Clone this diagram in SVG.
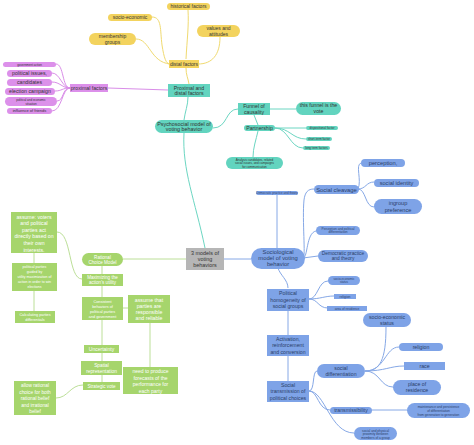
<svg xmlns="http://www.w3.org/2000/svg" width="474" height="445" viewBox="0 0 474 445">
<style>
text{font-family:"Liberation Sans",Arial,sans-serif;text-anchor:middle;fill:#333;}
.y{fill:#f3d35e;}
.t{fill:#62d4bf;}
.p{fill:#dc90ea;}
.g{fill:#a6d56c;}
.b{fill:#7ea3e7;}
.gr{fill:#b6b6b6;}
.gt{fill:#fff;}
.bt{fill:#2b3f6a;}
.c path{fill:none;stroke-width:1;}
.cy path{stroke:#f0da70;}
.cp path{stroke:#d98de8;}
.ct path{stroke:#6cd6c2;}
.cg path{stroke:#bcdf98;}
.cb path{stroke:#86a8e6;}
</style>
<rect width="474" height="445" fill="#fff"/>
<g id="connectors" class="c">
<g class="cy">
<path d="M186,59 C187,40 189,25 188,10"/>
<path d="M152,17 C162,17 160,30 162,45 C164,58 166,64 170,64"/>
<path d="M136,39 C150,39 150,62 170,64"/>
<path d="M220,37 C220,55 212,64 198,64"/>
<path d="M186,68 C186,75 188,78 189,84"/>
</g>
<g class="cp">
<path d="M108,88 L168,90"/>
<path d="M70,88 C62,88 64,64 56,64"/>
<path d="M70,88 C62,88 60,73 52,73"/>
<path d="M70,88 C62,88 60,82 52,82"/>
<path d="M70,88 C62,88 62,91 55,91"/>
<path d="M70,88 C62,88 64,101 57,101"/>
<path d="M70,88 C62,88 62,111 52,111"/>
</g>
<g class="ct">
<path d="M188,97 C188,105 185,112 184,120"/>
<path d="M184,133 C182,170 195,200 205,248"/>
<path d="M213,128 C228,128 225,109 238,109"/>
<path d="M270,109 L296,109"/>
<path d="M254,115 L258,125"/>
<path d="M258,131 C256,140 253,148 253,157"/>
<path d="M275,128 L306,128"/>
<path d="M275,128 C290,128 292,139 306,139"/>
<path d="M275,128 C288,128 290,148 303,148"/>
</g>
<g class="cg">
<path d="M186,259 L123,259"/>
<path d="M102,266 L102,274"/>
<path d="M102,285 L102,297"/>
<path d="M102,320 L102,345"/>
<path d="M102,353 L102,361"/>
<path d="M102,374 L102,382"/>
<path d="M57,232 C72,232 68,279 82,279"/>
<path d="M34,253 L34,263"/>
<path d="M34,290 L34,311"/>
<path d="M123,308 L128,308"/>
<path d="M150,323 L150,367"/>
<path d="M83,385 C70,385 68,398 56,398"/>
</g>
<g class="cb">
<path d="M224,259 L251,259"/>
<path d="M303,258 C308,258 306,233 316,231"/>
<path d="M303,258 L318,256"/>
<path d="M303,258 C306,258 302,220 304,200 C305,192 308,189 314,189"/>
<path d="M277,194 L277,248"/>
<path d="M358,189 C362,180 355,165 361,163"/>
<path d="M358,189 C366,189 366,182 374,182"/>
<path d="M358,189 C366,189 365,207 374,207"/>
<path d="M278,268 C280,275 288,280 288,288"/>
<path d="M309,299 C318,299 318,281 328,281"/>
<path d="M309,299 C320,299 325,296 334,296"/>
<path d="M309,299 C318,299 318,308 328,308"/>
<path d="M288,310 L288,335"/>
<path d="M288,356 L288,381"/>
<path d="M309,391 C315,391 312,371 317,371"/>
<path d="M309,391 C318,391 318,410 330,410"/>
<path d="M309,391 C325,391 330,433 354,433"/>
<path d="M365,371 C380,371 386,360 386,327"/>
<path d="M365,371 C385,371 385,347 399,347"/>
<path d="M365,371 C385,371 390,366 404,366"/>
<path d="M365,371 C380,371 380,387 393,387"/>
<path d="M372,410 L407,410"/>
</g>
</g>

<!-- yellow -->
<g id="historical"><rect class="y" x="167" y="3" width="43" height="7" rx="3.5"/><text x="188.5" y="8.3" font-size="5">historical factors</text></g>
<g id="socioeco-y"><rect class="y" x="108" y="14" width="44" height="7" rx="3.5"/><text x="130" y="19.3" font-size="5">socio-economic</text></g>
<g id="values"><rect class="y" x="197" y="25" width="43" height="12" rx="6"/><text x="218.5" y="30" font-size="5">values and<tspan x="218.5" dy="5.5">attitudes</tspan></text></g>
<g id="membership"><rect class="y" x="89" y="33" width="47" height="12" rx="6"/><text x="112.5" y="38" font-size="5">membership<tspan x="112.5" dy="5.5">groups</tspan></text></g>
<g id="distal"><rect class="y" x="169" y="60" width="30" height="8"/><text x="184" y="65.8" font-size="5">distal factors</text></g>

<!-- teal -->
<g id="proxdistal"><rect class="t" x="168" y="84" width="42" height="13"/><text x="189" y="89.5" font-size="5.2">Proximal and<tspan x="189" dy="5.5">distal factors</tspan></text></g>
<g id="psycho"><rect class="t" x="155" y="120" width="58" height="13" rx="6.5"/><text x="184" y="125.5" font-size="5.4">Psychosocial model of<tspan x="184" dy="5.6">voting behavior</tspan></text></g>
<g id="funnel"><rect class="t" x="238" y="103" width="32" height="12"/><text x="254" y="108" font-size="5.2">Funnel of<tspan x="254" dy="5.5">causality</tspan></text></g>
<g id="thisfunnel"><rect class="t" x="296" y="102" width="45" height="13" rx="6.5"/><text x="318.5" y="107.3" font-size="5.2">this funnel is the<tspan x="318.5" dy="5.5">vote</tspan></text></g>
<g id="partnership"><rect class="t" x="244" y="125" width="31" height="6" rx="3"/><text x="259.5" y="129.8" font-size="5.2">Partnership</text></g>
<g id="dispositional"><rect class="t" x="306" y="126" width="32" height="4" rx="2"/><text x="322" y="129.2" font-size="3">dispositional factor</text></g>
<g id="shortterm"><rect class="t" x="306" y="137" width="26" height="4" rx="2"/><text x="319" y="140.2" font-size="3">short-term factor</text></g>
<g id="longterm"><rect class="t" x="303" y="146" width="27" height="4" rx="2"/><text x="316.5" y="149.2" font-size="3">long term factors</text></g>
<g id="analysis"><rect class="t" x="226" y="157" width="57" height="12" rx="6"/><text x="254.5" y="160.5" font-size="3">Analysis candidates, related<tspan x="254.5" dy="3.5">social issues, and campaigns</tspan><tspan x="254.5" dy="3.5">for communication</tspan></text></g>

<!-- purple -->
<g id="proximal"><rect class="p" x="70" y="84" width="38" height="8"/><text x="89" y="89.8" font-size="5.2">proximal factors</text></g>
<g id="govaction"><rect class="p" x="3" y="62" width="53" height="5" rx="2.5"/><text x="29.5" y="65.6" font-size="3">government action</text></g>
<g id="polissues"><rect class="p" x="7" y="70" width="45" height="7" rx="3.5"/><text x="29.5" y="75.4" font-size="5.2">political issues,</text></g>
<g id="candidates"><rect class="p" x="7" y="79" width="45" height="7" rx="3.5"/><text x="29.5" y="84.4" font-size="5.2">candidates</text></g>
<g id="campaign"><rect class="p" x="5" y="88" width="50" height="7" rx="3.5"/><text x="30" y="93.4" font-size="5.2">election campaign</text></g>
<g id="polecon"><rect class="p" x="5" y="97" width="52" height="9" rx="4.5"/><text x="31" y="101" font-size="3">political and economic<tspan x="31" dy="3.5">situation</tspan></text></g>
<g id="friends"><rect class="p" x="7" y="108" width="45" height="6" rx="3"/><text x="29.5" y="112.4" font-size="4">influence of friends</text></g>

<!-- gray -->
<g id="models"><rect class="gr" x="186" y="248" width="38" height="22"/><text x="205" y="254.5" font-size="5.4">3 models of<tspan x="205" dy="6">voting</tspan><tspan x="205" dy="6">behaviors</tspan></text></g>

<!-- green -->
<g id="assume"><rect class="g" x="11" y="212" width="46" height="41"/><text class="gt" x="34" y="218.5" font-size="5.2">assume: voters<tspan x="34" dy="6.6">and political</tspan><tspan x="34" dy="6.6">parties act</tspan><tspan x="34" dy="6.6">directly based on</tspan><tspan x="34" dy="6.6">their own</tspan><tspan x="34" dy="6.6">interests.</tspan></text></g>
<g id="guided"><rect class="g" x="12" y="263" width="45" height="28"/><text class="gt" x="34.5" y="268" font-size="3.6">political parties<tspan x="34.5" dy="5">guided by</tspan><tspan x="34.5" dy="5">utility maximization of</tspan><tspan x="34.5" dy="5">action in order to win</tspan><tspan x="34.5" dy="5">elections</tspan></text></g>
<g id="calculating"><rect class="g" x="15" y="311" width="40" height="12"/><text class="gt" x="35" y="316" font-size="3.8">Calculating parties<tspan x="35" dy="4.8">differentials</tspan></text></g>
<g id="rational"><rect class="g" x="82" y="253" width="41" height="13" rx="6.5"/><text class="gt" x="102.5" y="258.5" font-size="4.6">Rational<tspan x="102.5" dy="5.3">Choice Model</tspan></text></g>
<g id="maximizing"><rect class="g" x="82" y="274" width="41" height="12"/><text class="gt" x="102.5" y="279" font-size="4.6">Maximizing the<tspan x="102.5" dy="5">action's utility</tspan></text></g>
<g id="consistent"><rect class="g" x="82" y="297" width="41" height="23"/><text class="gt" x="102.5" y="302.5" font-size="3.8">Consistent<tspan x="102.5" dy="5">behaviors of</tspan><tspan x="102.5" dy="5">political parties</tspan><tspan x="102.5" dy="5">and government</tspan></text></g>
<g id="responsible"><rect class="g" x="128" y="295" width="42" height="28"/><text class="gt" x="149" y="301.5" font-size="5.2">assume that<tspan x="149" dy="6.3">parties are</tspan><tspan x="149" dy="6.3">responsible</tspan><tspan x="149" dy="6.3">and reliable</tspan></text></g>
<g id="uncertainty"><rect class="g" x="84" y="345" width="35" height="8"/><text class="gt" x="101.5" y="350.8" font-size="5">Uncertainty</text></g>
<g id="spatial"><rect class="g" x="81" y="361" width="41" height="14"/><text class="gt" x="101.5" y="366.8" font-size="4.8">Spatial<tspan x="101.5" dy="5.8">representation</tspan></text></g>
<g id="strategic"><rect class="g" x="83" y="382" width="37" height="8"/><text class="gt" x="101.5" y="387.6" font-size="4.6">Strategic vote</text></g>
<g id="forecasts"><rect class="g" x="123" y="367" width="55" height="27"/><text class="gt" x="150.5" y="373" font-size="5">need to produce<tspan x="150.5" dy="6.5">forecasts of the</tspan><tspan x="150.5" dy="6.5">performance for</tspan><tspan x="150.5" dy="6.5">each party</tspan></text></g>
<g id="allow"><rect class="g" x="14" y="381" width="42" height="34"/><text class="gt" x="35" y="387" font-size="4.8">allow rational<tspan x="35" dy="6.6">choice for both</tspan><tspan x="35" dy="6.6">rational belief</tspan><tspan x="35" dy="6.6">and irrational</tspan><tspan x="35" dy="6.6">belief</tspan></text></g>

<!-- blue -->
<g id="sociological"><rect class="b" x="251" y="248" width="54" height="21" rx="10.5"/><text class="bt" x="278" y="254" font-size="5.8">Sociological<tspan x="278" dy="6.2">model of voting</tspan><tspan x="278" dy="6.2">behavior</tspan></text></g>
<g id="cleavage"><rect class="b" x="314" y="185" width="45" height="9" rx="4.5"/><text class="bt" x="336.5" y="191.6" font-size="5.8">Social cleavage</text></g>
<g id="perception"><rect class="b" x="361" y="159" width="44" height="8" rx="4"/><text class="bt" x="383" y="165.2" font-size="5.8">perception,</text></g>
<g id="identity"><rect class="b" x="374" y="179" width="45" height="8" rx="4"/><text class="bt" x="396.5" y="185.2" font-size="5.6">social identity</text></g>
<g id="ingroup"><rect class="b" x="374" y="199" width="48" height="15" rx="7.5"/><text class="bt" x="398" y="205.2" font-size="5.6">ingroup<tspan x="398" dy="6.3">preference</tspan></text></g>
<g id="democratic-small"><rect class="b" x="256" y="191" width="42" height="4" rx="2"/><text class="bt" x="277" y="194.1" font-size="3">Democratic practice and theory</text></g>
<g id="perdiff"><rect class="b" x="316" y="226" width="44" height="9" rx="4.5"/><text class="bt" x="338" y="229.7" font-size="3.2">Perception and political<tspan x="338" dy="3.6">differentiation</tspan></text></g>
<g id="democratic"><rect class="b" x="318" y="250" width="50" height="12" rx="6"/><text class="bt" x="343" y="255" font-size="4.8">Democratic practice<tspan x="343" dy="5.2">and theory</tspan></text></g>
<g id="homogeneity"><rect class="b" x="267" y="289" width="42" height="22"/><text class="bt" x="288" y="295.3" font-size="5.2">Political<tspan x="288" dy="6.3">homogeneity of</tspan><tspan x="288" dy="6.3">social groups</tspan></text></g>
<g id="ses-small"><rect class="b" x="328" y="276" width="32" height="9" rx="4.5"/><text class="bt" x="344" y="279.8" font-size="3">socio-economic<tspan x="344" dy="3.4">status</tspan></text></g>
<g id="religion-small"><rect class="b" x="334" y="294" width="22" height="5"/><text class="bt" x="345" y="297.8" font-size="3.4">religion</text></g>
<g id="area"><rect class="b" x="327" y="306" width="40" height="5"/><text class="bt" x="347" y="309.6" font-size="3.2">area of residence</text></g>
<g id="activation"><rect class="b" x="267" y="335" width="42" height="21"/><text class="bt" x="288" y="341" font-size="5.2">Activation,<tspan x="288" dy="6.3">reinforcement</tspan><tspan x="288" dy="6.3">and conversion</tspan></text></g>
<g id="transmission"><rect class="b" x="267" y="381" width="42" height="21"/><text class="bt" x="288" y="387" font-size="5.2">Social<tspan x="288" dy="6.3">transmission of</tspan><tspan x="288" dy="6.3">political choices</tspan></text></g>
<g id="ses"><rect class="b" x="363" y="313" width="48" height="14" rx="7"/><text class="bt" x="387" y="319" font-size="5.2">socio-economic<tspan x="387" dy="6">status</tspan></text></g>
<g id="religion"><rect class="b" x="399" y="343" width="44" height="8" rx="4"/><text class="bt" x="421" y="348.9" font-size="5.2">religion</text></g>
<g id="race"><rect class="b" x="404" y="362" width="41" height="8"/><text class="bt" x="424.5" y="367.9" font-size="5.2">race</text></g>
<g id="place"><rect class="b" x="393" y="380" width="48" height="15" rx="7.5"/><text class="bt" x="417" y="386" font-size="5.2">place of<tspan x="417" dy="6.2">residence</tspan></text></g>
<g id="differentiation"><rect class="b" x="317" y="364" width="48" height="14" rx="7"/><text class="bt" x="341" y="370" font-size="5.2">social<tspan x="341" dy="6">differentiation</tspan></text></g>
<g id="transmissibility"><rect class="b" x="330" y="407" width="42" height="7" rx="3.5"/><text class="bt" x="351" y="412.2" font-size="5.2">transmissibility</text></g>
<g id="maintenance"><rect class="b" x="407" y="403" width="63" height="15" rx="7.5"/><text class="bt" x="438.5" y="408" font-size="3.2">maintenance and persistence<tspan x="438.5" dy="3.8">of differentiation</tspan><tspan x="438.5" dy="3.8">from generation to generation</tspan></text></g>
<g id="proximity"><rect class="b" x="354" y="427" width="43" height="13" rx="6.5"/><text class="bt" x="375.5" y="431.5" font-size="3.2">social and physical<tspan x="375.5" dy="3.7">proximity between</tspan><tspan x="375.5" dy="3.7">members of a group</tspan></text></g>
</svg>
